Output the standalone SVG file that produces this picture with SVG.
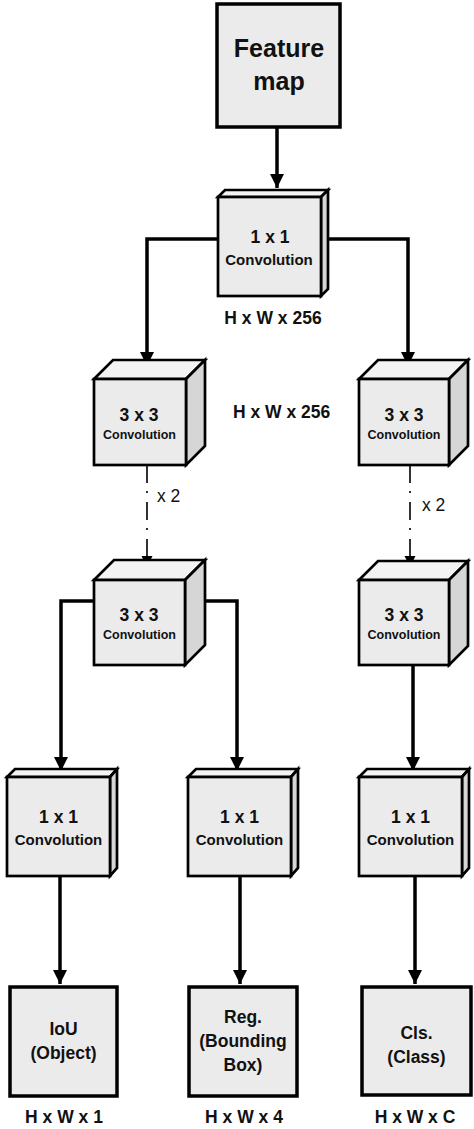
<svg xmlns="http://www.w3.org/2000/svg" width="474" height="1129" viewBox="0 0 474 1129">
<style>
.front{fill:#ebebeb;stroke:#000;stroke-width:2.7;stroke-linejoin:miter}
.top{fill:#f3f3f3;stroke:#000;stroke-width:2.7;stroke-linejoin:miter}
.side{fill:#d6d6d6;stroke:#000;stroke-width:2.7;stroke-linejoin:miter}
.box{fill:#ebebeb;stroke:#000;stroke-width:3.5}
text{font-family:"Liberation Sans",Arial,sans-serif;font-weight:bold;fill:#111;text-anchor:middle}
.big{font-size:25px}
.t18{font-size:17.5px}
.c15{font-size:15px}
.c12{font-size:12.5px}
.reg{font-weight:normal;font-size:17.5px;text-anchor:start}
.conn{fill:none;stroke:#000;stroke-width:3.5}
.dd{fill:none;stroke:#000;stroke-width:1.6;stroke-dasharray:18 8 2 9}
</style>
<defs>
<marker id="ah" markerWidth="4" markerHeight="4" refX="4" refY="2" orient="auto" markerUnits="strokeWidth">
<path d="M0,0 L4,2 L0,4 z" fill="#000"/>
</marker>
<marker id="ahs" markerWidth="7" markerHeight="7" refX="7" refY="3.5" orient="auto" markerUnits="strokeWidth">
<path d="M0,0 L7,3.5 L0,7 z" fill="#000"/>
</marker>
</defs>

<g id="connectors">
<path class="conn" d="M277,127 V188" marker-end="url(#ah)"/>
<path class="conn" d="M218,239 H147 V366" marker-end="url(#ah)"/>
<path class="conn" d="M328,239 H408 V366" marker-end="url(#ah)"/>
<path class="dd" d="M147,465 V567" marker-end="url(#ahs)"/>
<path class="dd" d="M410,465 V567" marker-end="url(#ahs)"/>
<path class="conn" d="M94,601 H61 V771" marker-end="url(#ah)"/>
<path class="conn" d="M205,601 H237 V771" marker-end="url(#ah)"/>
<path class="conn" d="M413,665 V771" marker-end="url(#ah)"/>
<path class="conn" d="M60,876 V984" marker-end="url(#ah)"/>
<path class="conn" d="M240,876 V984" marker-end="url(#ah)"/>
<path class="conn" d="M415,876 V984" marker-end="url(#ah)"/>
</g>

<g id="feature-map">
<rect class="box" x="217" y="4" width="123" height="123"/>
<text class="big" x="279" y="57">Feature</text>
<text class="big" x="279" y="90">map</text>
</g>

<g id="conv1x1-top">
<polygon class="top" points="218,197 225,190 328,190 321,197"/>
<polygon class="side" points="321,197 328,190 328,289 321,296"/>
<rect class="front" x="218" y="197" width="103" height="99"/>
<text class="t18" x="270" y="243">1 x 1</text>
<text class="c15" x="269" y="265">Convolution</text>
</g>
<text id="label-256-top" class="t18" x="273" y="324">H x W x 256</text>

<g id="conv3x3-left-a">
<polygon class="top" points="94,379 113,360 205,360 186,379"/>
<polygon class="side" points="186,379 205,360 205,446 186,465"/>
<rect class="front" x="94" y="379" width="92" height="86"/>
<text class="t18" x="139" y="421">3 x 3</text>
<text class="c12" x="139.5" y="439">Convolution</text>
</g>
<text id="label-256-mid" class="t18" x="233" y="418" style="text-anchor:start">H x W x 256</text>

<g id="conv3x3-right-a">
<polygon class="top" points="359,379 378,360 468,360 449,379"/>
<polygon class="side" points="449,379 468,360 468,446 449,465"/>
<rect class="front" x="359" y="379" width="90" height="86"/>
<text class="t18" x="404" y="421">3 x 3</text>
<text class="c12" x="404" y="439">Convolution</text>
</g>

<text id="x2-left" class="reg" x="157" y="502">x 2</text>
<text id="x2-right" class="reg" x="422" y="511">x 2</text>

<g id="conv3x3-left-b">
<polygon class="top" points="94,580 114,560 205,560 185,580"/>
<polygon class="side" points="185,580 205,560 205,645 185,665"/>
<rect class="front" x="94" y="580" width="91" height="85"/>
<text class="t18" x="139" y="621">3 x 3</text>
<text class="c12" x="139.5" y="639">Convolution</text>
</g>

<g id="conv3x3-right-b">
<polygon class="top" points="359,580 378,561 468,561 449,580"/>
<polygon class="side" points="449,580 468,561 468,646 449,665"/>
<rect class="front" x="359" y="580" width="90" height="85"/>
<text class="t18" x="404" y="621">3 x 3</text>
<text class="c12" x="404" y="639">Convolution</text>
</g>

<g id="conv1x1-left">
<polygon class="top" points="7,777 15,769 117,769 110,777"/>
<polygon class="side" points="110,777 117,769 117,868 110,876"/>
<rect class="front" x="7" y="777" width="103" height="99"/>
<text class="t18" x="58.5" y="823">1 x 1</text>
<text class="c15" x="58.5" y="845">Convolution</text>
</g>

<g id="conv1x1-mid">
<polygon class="top" points="188,777 196,769 298,769 291,777"/>
<polygon class="side" points="291,777 298,769 298,868 291,876"/>
<rect class="front" x="188" y="777" width="103" height="99"/>
<text class="t18" x="239.5" y="823">1 x 1</text>
<text class="c15" x="239.5" y="845">Convolution</text>
</g>

<g id="conv1x1-right">
<polygon class="top" points="359,777 367,769 469,769 462,777"/>
<polygon class="side" points="462,777 469,769 469,868 462,876"/>
<rect class="front" x="359" y="777" width="103" height="99"/>
<text class="t18" x="410.5" y="823">1 x 1</text>
<text class="c15" x="410.5" y="845">Convolution</text>
</g>

<g id="out-iou">
<rect class="box" x="10" y="987" width="107" height="109"/>
<text class="t18" x="63.5" y="1035">IoU</text>
<text class="t18" x="63.5" y="1059">(Object)</text>
</g>
<text id="label-1" class="t18" x="64" y="1123">H x W x 1</text>

<g id="out-reg">
<rect class="box" x="189" y="987" width="108" height="109"/>
<text class="t18" x="243" y="1023">Reg.</text>
<text class="t18" x="243" y="1047">(Bounding</text>
<text class="t18" x="243" y="1071">Box)</text>
</g>
<text id="label-4" class="t18" x="244" y="1123">H x W x 4</text>

<g id="out-cls">
<rect class="box" x="362" y="987" width="109" height="108"/>
<text class="t18" x="416.5" y="1039">Cls.</text>
<text class="t18" x="416.5" y="1063">(Class)</text>
</g>
<text id="label-c" class="t18" x="415" y="1123">H x W x C</text>
</svg>
